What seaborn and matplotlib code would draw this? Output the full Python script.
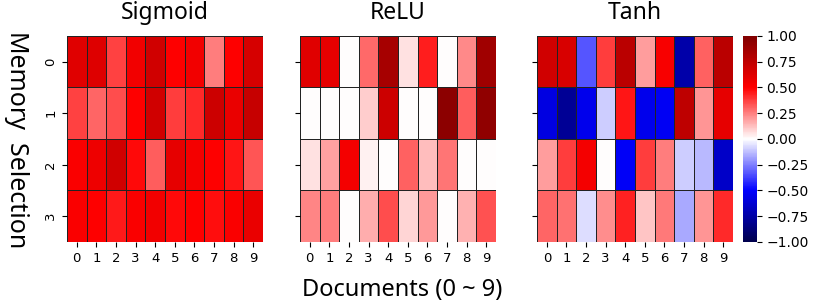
import numpy as np
import pandas as pd
import matplotlib
matplotlib.use("Agg")
import matplotlib.pyplot as plt
import seaborn as sns

# Memory selection weights, rows = memory slot (0-3), cols = document (0-9)
sigmoid_vals = [
    [0.62, 0.63, 0.37, 0.55, 0.68, 0.50, 0.55, 0.25, 0.50, 0.66],
    [0.37, 0.30, 0.35, 0.50, 0.68, 0.38, 0.42, 0.70, 0.58, 0.72],
    [0.52, 0.57, 0.68, 0.48, 0.32, 0.60, 0.54, 0.50, 0.46, 0.33],
    [0.52, 0.50, 0.45, 0.52, 0.55, 0.48, 0.50, 0.47, 0.52, 0.58],
]
relu_vals = [
    [0.62, 0.60, 0.00, 0.29, 0.85, 0.06, 0.44, 0.00, 0.23, 0.87],
    [0.00, 0.00, 0.00, 0.10, 0.70, 0.00, 0.00, 0.95, 0.32, 0.93],
    [0.06, 0.18, 0.54, 0.03, 0.00, 0.31, 0.13, 0.27, 0.00, 0.00],
    [0.24, 0.25, 0.00, 0.16, 0.35, 0.08, 0.20, 0.00, 0.15, 0.34],
]
tanh_vals = [
    [0.68, 0.65, -0.33, 0.38, 0.77, 0.19, 0.53, -0.74, 0.31, 0.77],
    [-0.58, -0.79, -0.55, -0.10, 0.46, -0.55, -0.53, 0.75, 0.21, 0.60],
    [0.19, 0.38, 0.54, 0.00, -0.52, 0.38, 0.25, -0.10, -0.14, -0.65],
    [0.30, 0.28, -0.07, 0.22, 0.43, 0.11, 0.26, -0.17, 0.21, 0.42],
]
titles = ["Sigmoid", "ReLU", "Tanh"]
doc_labels = [str(i) for i in range(10)]
mem_labels = [str(i) for i in range(4)]
cbar_ticks = [-1, -0.75, -0.5, -0.25, 0, 0.25, 0.5, 0.75, 1]

label_font = ["Noto Sans", "DejaVu Sans"]

fig = plt.figure(figsize=(8.19, 3.04), dpi=100)
lefts = [0.0818, 0.3663, 0.6557]
axes = [fig.add_axes([l, 0.204, 0.2393, 0.678]) for l in lefts]
cax = fig.add_axes([0.907, 0.204, 0.017, 0.678])

for i, (ax, vals, title) in enumerate(zip(axes, [sigmoid_vals, relu_vals, tanh_vals], titles)):
    df = pd.DataFrame(vals, index=mem_labels, columns=doc_labels)
    sns.heatmap(df, ax=ax, cmap="seismic", vmin=-1, vmax=1,
                linewidths=0.6, linecolor="#222222",
                cbar=(i == 2), cbar_ax=cax if i == 2 else None)
    ax.set_title(title, fontsize=16.5, family=label_font, pad=12)
    ax.tick_params(axis="x", labelsize=9.5, rotation=0)
    ax.tick_params(axis="y", labelsize=9.5)
    plt.setp(ax.get_yticklabels(), rotation=90, va="center")
    ax.set_xlabel("")
    ax.set_ylabel("")
    if i != 0:
        ax.set_yticklabels([])

cax.tick_params(labelsize=10)
cax.set_yticks(cbar_ticks)
cax.set_yticklabels([f"{v:.2f}".replace("-", "\u2212") for v in cbar_ticks])

fig.text(0.491, 0.046, "Documents (0 ~ 9)", ha="center", va="center",
         fontsize=17, family=label_font)
fig.text(0.02, 0.54, "Memory  Selection", ha="center", va="center",
         rotation=-90, fontsize=18, family=label_font)

fig.savefig("out.png", dpi=100)
